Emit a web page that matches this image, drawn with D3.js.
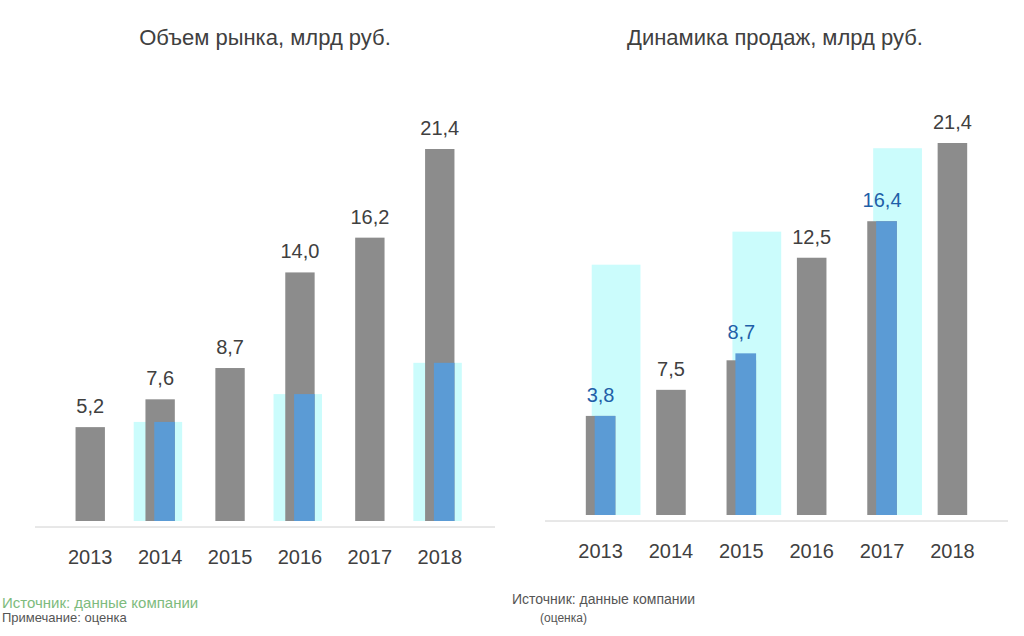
<!DOCTYPE html><html><head><meta charset="utf-8">
<script src="https://cdn.jsdelivr.net/npm/d3@7"></script>
<style>body{margin:0;background:#fff;font-family:"Liberation Sans Narrow","Liberation Sans",Arial,sans-serif}</style></head><body>
<svg id="c" width="1024" height="636"></svg>
<script>
const categories=["2013","2014","2015","2016","2017","2018"];
const leftGray=[5.4,7.0,8.8,14.3,16.3,21.4];
const leftGrayLabels=["5,2","7,6","8,7","14,0","16,2","21,4"];
const leftBlue=[0,5.7,0,7.3,0,9.1];
const rightGray=[5.7,7.2,8.9,14.8,16.9,21.4];
const rightGrayLabels=["3,8","7,5","8,7","12,5","16,4","21,4"];
const rightBlue=[5.7,0,9.3,0,16.9,0];
const rightCyan=[14.4,0,16.3,0,21.1,0];
const titles=["Объем рынка, млрд руб.","Динамика продаж, млрд руб."];
const svg=d3.select("#c");
const gray="#8c8c8c",blue="#5b9bd5",cyan="#cbfcfc";
function chart(x0,x1,base,gray_,blue_,cyan_,labels,title,tx,labelBlue){
  const x=d3.scaleBand().domain(categories).range([x0,x1]).padding(0.58);
  const y=d3.scaleLinear().domain([0,21.4]).range([base,base-372]);
  const g=svg.append("g");
  const bw=x.bandwidth();
  categories.forEach((c,i)=>{
    const cx=x(c);
    if(cyan_&&cyan_[i]>0) g.append("rect").attr("x",cx+bw*0.2).attr("width",bw*1.65).attr("y",y(cyan_[i])).attr("height",base-y(cyan_[i])).attr("fill",cyan);
  });
  categories.forEach((c,i)=>{
    const cx=x(c);
    if(!cyan_&&blue_[i]>0) g.append("rect").attr("x",cx-bw*0.4).attr("width",bw*1.65).attr("y",y(blue_[i])).attr("height",base-y(blue_[i])).attr("fill",cyan);
    g.append("rect").attr("x",cx).attr("width",bw).attr("y",y(gray_[i])).attr("height",base-y(gray_[i])).attr("fill",gray);
    if(blue_[i]>0) g.append("rect").attr("x",cx+bw*0.3).attr("width",bw*0.7).attr("y",y(blue_[i])).attr("height",base-y(blue_[i])).attr("fill",blue);
    g.append("text").attr("x",cx+bw/2).attr("y",y(Math.max(gray_[i],blue_[i]))-14).attr("text-anchor","middle")
      .attr("font-size",20).attr("fill",labelBlue&&blue_[i]>0?"#1f5fa8":"#404040").text(labels[i]);
  });
  g.append("line").attr("x1",x0).attr("x2",x1).attr("y1",base+6).attr("y2",base+6).attr("stroke","#d0d0d0");
  const ax=g.append("g").attr("transform",`translate(0,${base+20})`).call(d3.axisBottom(x).tickSize(0));
  ax.select(".domain").remove();
  ax.selectAll("text").attr("font-size",20).attr("fill","#404040").attr("dy","1em");
  svg.append("text").attr("x",tx).attr("y",45).attr("text-anchor","middle").attr("font-size",22).attr("fill","#404040").text(title);
}
chart(35,495,521,leftGray,leftBlue,null,leftGrayLabels,titles[0],265,false);
chart(545,1008,515,rightGray,rightBlue,rightCyan,rightGrayLabels,titles[1],775,true);
svg.append("text").attr("x",2).attr("y",608).attr("font-size",15).attr("fill","#7dbb7d").text("Источник: данные компании");
svg.append("text").attr("x",2).attr("y",622).attr("font-size",13).attr("fill","#555").text("Примечание: оценка");
svg.append("text").attr("x",512).attr("y",604).attr("font-size",14).attr("fill","#555").text("Источник: данные компании");
svg.append("text").attr("x",540).attr("y",622).attr("font-size",12).attr("fill","#555").text("(оценка)");
</script></body></html>
